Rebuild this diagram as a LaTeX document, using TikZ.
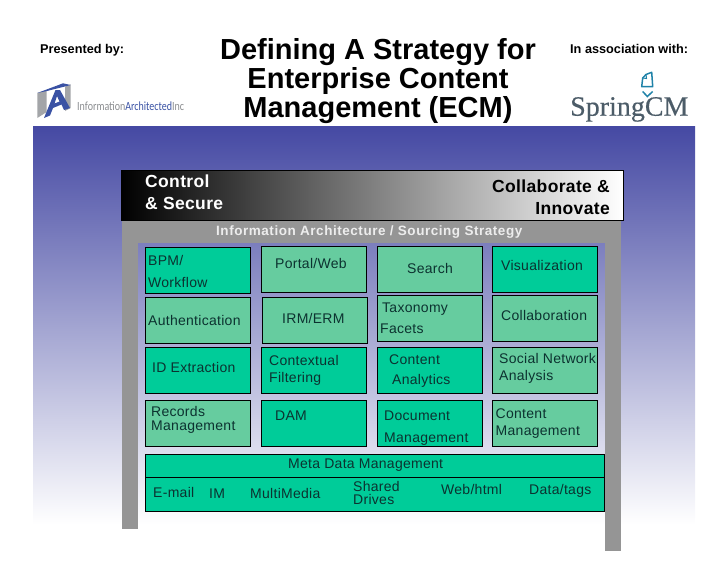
\documentclass[tikz,border=0pt]{standalone}
\usepackage{fontspec}
\setmainfont{Liberation Sans}
\newfontfamily\cellfont{Liberation Sans}[LetterSpace=2]
\newfontfamily\headfont{Liberation Sans}[LetterSpace=2,BoldFont={Liberation Sans Bold}]
\newfontfamily\sourcefont{Liberation Sans}[LetterSpace=4,BoldFont={Liberation Sans Bold}]
\newfontfamily\logofont{Carlito}
\newfontfamily\springfont{Liberation Serif}[FakeBold=.4]
\definecolor{darkcell}{HTML}{00CC99}
\definecolor{lightcell}{HTML}{66CC9F}
\definecolor{celltext}{HTML}{0C3230}
\definecolor{topblue}{HTML}{4549A3}
\definecolor{framegray}{HTML}{959595}
\definecolor{iablue}{HTML}{3A52A4}
\definecolor{iagray}{HTML}{A3A5A8}
\definecolor{springblue}{HTML}{1F82A8}
\definecolor{springgray}{HTML}{4C5C68}
\tikzset{
	box/.style = {draw = black, line width = .8pt, inner sep = 0pt, outer sep = 0pt},
	dark/.style = {box, fill = darkcell, minimum width = 105pt, minimum height = 46pt},
	light/.style = {box, fill = lightcell, minimum width = 105pt, minimum height = 46pt},
	txt/.style = {anchor = base west, inner sep = 0pt, text = celltext, font = \cellfont\fontsize{14}{15}\selectfont},
	head/.style = {inner sep = 0pt, font = \headfont\bfseries\fontsize{17.5}{20}\selectfont},
	small/.style = {anchor = base west, inner sep = 0pt, font = \bfseries\fontsize{12.7}{14}\selectfont},
	titleline/.style = {anchor = base, inner sep = 0pt, font = \bfseries\fontsize{29}{29}\selectfont}
}
\begin{document}
\begin{tikzpicture}[x = 1pt, y = -1pt]
	\useasboundingbox (0,0) rectangle (728,563);
	\shade[top color = topblue, bottom color = white] (33,126) rectangle (695,525); %background
	\fill[framegray] (122,170) rectangle (621,243); %gray frame
	\fill[framegray] (122,243) rectangle (138,529);
	\fill[framegray] (605,243) rectangle (621,551);
	\node[box, left color = black, right color = white, minimum width = 502pt, minimum height = 50pt] (bar) at (372,195) {};

	\node[titleline] (titleA) at (378,59) {Defining A Strategy for};
	\node[titleline] (titleB) at (378,88) {Enterprise Content};
	\node[titleline] (titleC) at (378,117) {Management (ECM)};
	\node[small] (presented) at (40,53) {Presented by:};
	\node[small] (association) at (570,53) {In association with:};

	\node[head, anchor = base west, text = white] (control) at (145,187) {Control};
	\node[head, anchor = base west, text = white] (secure) at (145,209) {\& Secure};
	\node[head, anchor = base east] (collaborate) at (610,192) {Collaborate \&};
	\node[head, anchor = base east] (innovate) at (610,214) {Innovate};
	\node[anchor = base west, inner sep = 0pt, text = white!93!black, font = \sourcefont\bfseries\fontsize{13.5}{15}\selectfont] (sourcing) at (216,235) {Information Architecture / Sourcing Strategy};

	%column 1
	\node[dark] (bpm) at (197.5,270) {};
	\node[light] (auth) at (197.5,320.5) {};
	\node[dark] (idext) at (197.5,370) {};
	\node[light] (records) at (197.5,423) {};
	%column 2
	\node[light] (portal) at (313.5,269) {};
	\node[light] (irm) at (314.5,320.5) {};
	\node[dark] (context) at (313.5,370) {};
	\node[dark] (dam) at (313.5,423) {};
	%column 3
	\node[light] (search) at (429.5,269) {};
	\node[light] (taxonomy) at (429.5,318) {};
	\node[dark] (analytics) at (429.5,370) {};
	\node[dark] (document) at (429.5,423) {};
	%column 4
	\node[dark] (visual) at (545,269) {};
	\node[light] (collab) at (545,318) {};
	\node[light] (social) at (545,370) {};
	\node[light] (content) at (545,423) {};
	%meta data rows
	\node[dark, minimum width = 459pt, minimum height = 23pt] (meta) at (374.5,465.5) {};
	\node[dark, minimum width = 459pt, minimum height = 34pt] (drives) at (374.5,494) {};

	\node[txt] (bpmA) at (148,265) {BPM/};
	\node[txt] (bpmB) at (148,287) {Workflow};
	\node[txt] (authA) at (148,325) {Authentication};
	\node[txt] (idextA) at (152,372) {ID Extraction};
	\node[txt] (recordsA) at (151,416) {Records};
	\node[txt] (recordsB) at (151,430) {Management};
	\node[txt] (portalA) at (275,268) {Portal/Web};
	\node[txt] (irmA) at (282,323) {IRM/ERM};
	\node[txt] (contextA) at (269,365) {Contextual};
	\node[txt] (contextB) at (269,382) {Filtering};
	\node[txt] (damA) at (275,420) {DAM};
	\node[txt] (searchA) at (407,273) {Search};
	\node[txt] (taxonomyA) at (382,312) {Taxonomy};
	\node[txt] (taxonomyB) at (380,333) {Facets};
	\node[txt] (analyticsA) at (389,364) {Content};
	\node[txt] (analyticsB) at (392,384) {Analytics};
	\node[txt] (documentA) at (384,420) {Document};
	\node[txt] (documentB) at (384,442) {Management};
	\node[txt] (visualA) at (501,270) {Visualization};
	\node[txt] (collabA) at (501,320) {Collaboration};
	\node[txt] (socialA) at (499,363) {Social Network};
	\node[txt] (socialB) at (499,380) {Analysis};
	\node[txt] (contentA) at (495.5,418) {Content};
	\node[txt] (contentB) at (495.5,435) {Management};
	\node[txt] (metaA) at (288,468) {Meta Data Management};
	\node[txt] (email) at (153,497) {E-mail};
	\node[txt] (im) at (209,498) {IM};
	\node[txt] (multi) at (250,498) {MultiMedia};
	\node[txt] (sharedA) at (353,491) {Shared};
	\node[txt] (sharedB) at (353,504) {Drives};
	\node[txt] (web) at (441,494) {Web/html};
	\node[txt] (datatags) at (529,494) {Data/tags};

	%logo on the left
	\fill[iagray] (37.3,93)--(46.7,90)--(46.7,112)--(37.3,118)--cycle;
	\fill[iagray] (65,86.7)--(70.7,84.3)--(70.7,108)--(65,111)--cycle;
	\fill[iablue] (37.3,93)--(63,83.3)--(70.7,85)--(47,91)--cycle;
	\fill[iablue, even odd rule] (55.5,90)--(60,90)--(70,108)--(64,110)--(61.5,104.5)--(53,108)--(50,115.5)--(44,118)--cycle
		(57,96)--(59.5,101.5)--(54.5,103.5)--cycle;
	\node[anchor = base west, inner sep = 0pt, font = \logofont\fontsize{12.5}{14}\selectfont] (ialogo) at (77,110) {\scalebox{.8}[1]{\textcolor{iagray!85!black}{Information}\textcolor{iablue}{Architected}\textcolor{iagray!85!black}{Inc}}};

	%logo on the right
	\draw[springblue, line width = 1.5pt, line join = round] (642.7,78)--(646,74.5)--(651.7,72.3)--(652.7,86.7)--(641.7,86.7)--cycle;
	\draw[springblue, line width = 1pt] (642.7,78)--(646.5,78.5)--(646,74.5);
	\draw[springblue, line width = 1.5pt] (642.7,91.5)--(647.3,96.5)--(652.7,91.5);
	\node[anchor = base west, inner sep = 0pt, text = springgray, font = \springfont\fontsize{28}{30}\selectfont] (springlogo) at (570,115.7) {SpringCM};
\end{tikzpicture}
\end{document}
